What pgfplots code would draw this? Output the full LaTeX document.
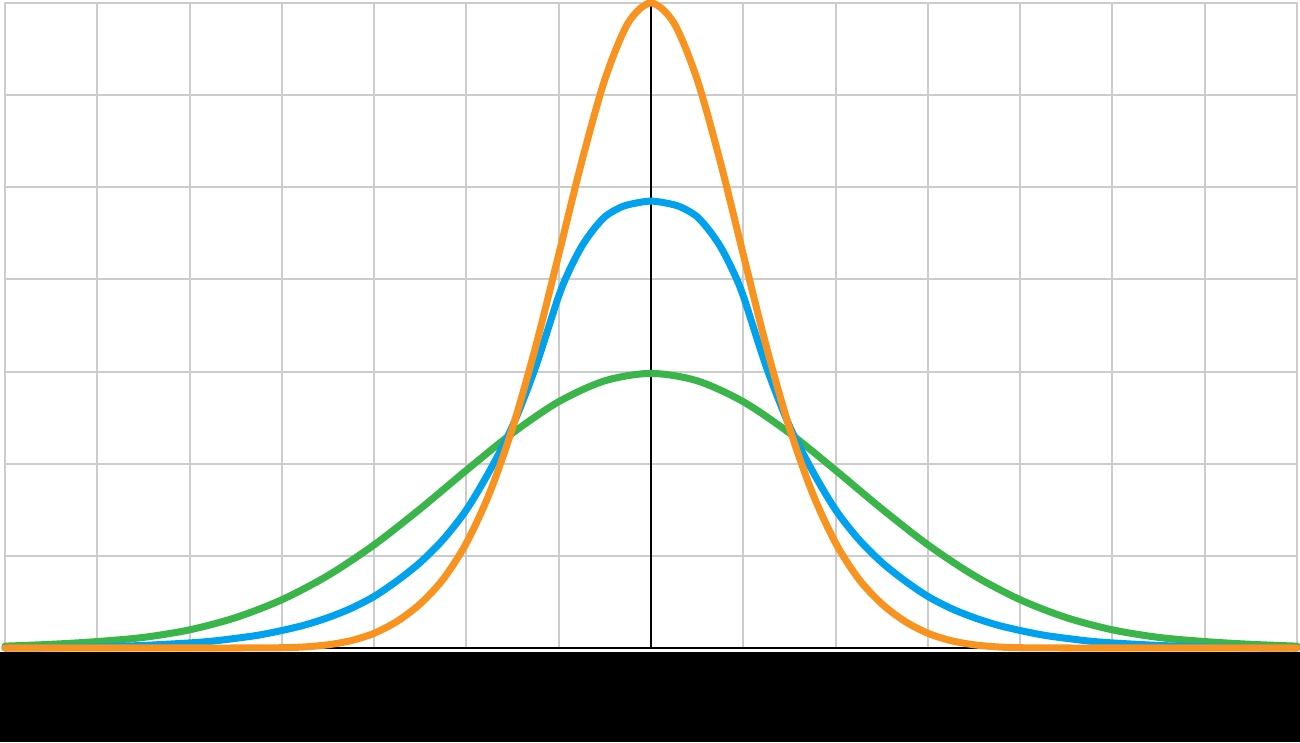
\documentclass[border=0pt]{standalone}
\usepackage{pgfplots}
\pgfplotsset{compat=1.18}
\definecolor{cOrange}{RGB}{247,147,30}
\definecolor{cBlue}{RGB}{0,162,237}
\definecolor{cGreen}{RGB}{57,181,74}
\definecolor{cGrid}{RGB}{204,204,204}
\begin{document}
\begin{tikzpicture}
\path[use as bounding box] (-0.05,-0.94) rectangle (12.95,6.48);
\fill[black] (-0.05,-0.94) rectangle (12.95,-0.04);
\begin{axis}[
  at={(0,0)}, anchor=south west,
  scale only axis, width=12.92cm, height=6.45cm,
  xmin=-7, xmax=7, ymin=0, ymax=7,
  xtick={-7,...,7}, ytick={0,...,7},
  xticklabels={}, yticklabels={},
  major tick length=0pt,
  grid=major,
  major grid style={cGrid, line width=0.6pt},
  axis line style={cGrid, line width=0.6pt},
  clip=false,
]
\addplot[black, line width=0.6pt] coordinates {(-7,0) (7,0)};
\addplot[black, line width=0.6pt] coordinates {(0,0) (0,7)};
% green
\addplot[cGreen, line width=2pt, smooth, line cap=round] coordinates {
(-7,0.02) (-6.5,0.04) (-6,0.07) (-5.5,0.115) (-5,0.197) (-4.5,0.33) (-4,0.524) (-3.5,0.787) (-3,1.12) (-2.5,1.511) (-2,1.929) (-1.5,2.333) (-1,2.673) (-0.5,2.9) (0,2.98)
(0.5,2.9) (1,2.673) (1.5,2.333) (2,1.929) (2.5,1.511) (3,1.12) (3.5,0.787) (4,0.524) (4.5,0.33) (5,0.197) (5.5,0.115) (6,0.07) (6.5,0.04) (7,0.02)};
% blue
\addplot[cBlue, line width=2pt, smooth, line cap=round] coordinates {
(-7,0.0) (-6.5,0.004) (-6,0.012) (-5.5,0.028) (-5,0.055) (-4.75,0.075) (-4.5,0.105) (-4.25,0.14) (-4,0.19) (-3.75,0.25) (-3.5,0.33) (-3.25,0.43) (-3,0.56) (-2.75,0.73) (-2.5,0.93) (-2.25,1.18) (-2,1.50) (-1.75,1.92) (-1.5,2.41) (-1.25,3.05) (-1,3.82) (-0.875,4.12) (-0.75,4.36) (-0.625,4.54) (-0.5,4.68) (-0.375,4.76) (-0.25,4.81) (0,4.85)
(0.25,4.81) (0.375,4.76) (0.5,4.68) (0.625,4.54) (0.75,4.36) (0.875,4.12) (1,3.82) (1.25,3.05) (1.5,2.41) (1.75,1.92) (2,1.50) (2.25,1.18) (2.5,0.93) (2.75,0.73) (3,0.56) (3.25,0.43) (3.5,0.33) (3.75,0.25) (4,0.19) (4.25,0.14) (4.5,0.105) (4.75,0.075) (5,0.055) (5.5,0.028) (6,0.012) (6.5,0.004) (7,0.0)};
% orange
\addplot[cOrange, line width=2pt, smooth, line cap=round] coordinates {
(-7,0) (-6,0) (-5,0) (-4.5,0) (-4,0.003) (-3.75,0.012) (-3.5,0.035) (-3.25,0.08) (-3,0.16) (-2.75,0.29) (-2.5,0.48) (-2.25,0.75) (-2,1.14) (-1.75,1.68) (-1.5,2.39) (-1.25,3.27) (-1,4.27) (-0.75,5.28) (-0.5,6.17) (-0.25,6.78) (0,7.0)
(0.25,6.78) (0.5,6.17) (0.75,5.28) (1,4.27) (1.25,3.27) (1.5,2.39) (1.75,1.68) (2,1.14) (2.25,0.75) (2.5,0.48) (2.75,0.29) (3,0.16) (3.25,0.08) (3.5,0.035) (3.75,0.012) (4,0.003) (4.5,0) (5,0) (6,0) (7,0)};
\end{axis}
\end{tikzpicture}
\end{document}
